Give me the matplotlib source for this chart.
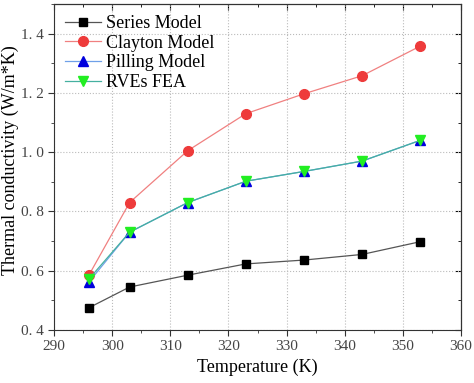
import matplotlib.pyplot as plt
from matplotlib.ticker import MultipleLocator, FuncFormatter

temp = [296, 303, 313, 323, 333, 343, 353]
series_model = [0.475, 0.545, 0.585, 0.623, 0.636, 0.655, 0.698]
clayton_model = [0.585, 0.830, 1.005, 1.130, 1.197, 1.258, 1.358]
pilling_model = [0.562, 0.730, 0.830, 0.902, 0.935, 0.970, 1.040]
rves_fea = [0.572, 0.730, 0.830, 0.902, 0.935, 0.970, 1.040]

plt.rcParams['font.family'] = 'Liberation Serif'

fig = plt.figure(figsize=(4.74, 3.83), dpi=100)
ax = fig.add_axes([54 / 474, 53 / 383, 407 / 474, 326 / 383])

ax.plot(temp, series_model, color='#555555', lw=0.9, marker='s', ms=6,
        mfc='black', mec='black', label='Series Model')
ax.plot(temp, clayton_model, color='#f08080', lw=0.9, marker='o', ms=7,
        mfc='#ee3b3b', mec='#ee3b3b', label='Clayton Model')
ax.plot(temp, pilling_model, color='#6fa0e8', lw=0.9, marker='^', ms=7,
        mfc='#0000dd', mec='#0000dd', label='Pilling Model')
ax.plot(temp, rves_fea, color='#45b0a0', lw=0.9, marker='v', ms=7,
        mfc='#22ee22', mec='#22ee22', label='RVEs FEA')

ax.set_xlim(290, 360)
ax.set_ylim(0.4, 1.5)
ax.xaxis.set_major_locator(MultipleLocator(10))
ax.xaxis.set_minor_locator(MultipleLocator(5))
ax.yaxis.set_major_locator(MultipleLocator(0.2))
ax.yaxis.set_minor_locator(MultipleLocator(0.1))
ax.yaxis.set_major_formatter(FuncFormatter(lambda v, p: ('%.1f' % v).replace('.', '. ')))

ax.grid(True, which='major', ls=':', color='#bbbbbb', lw=0.8)
ax.tick_params(which='both', direction='out', top=False, right=False,
               labelsize=11, colors='#333333', labelcolor='#444444')
ax.tick_params(which='major', length=4)
ax.tick_params(which='minor', length=2.5)
ax2 = ax.secondary_xaxis('top')
ax2.set_xticks(ax.get_xticks())
ax2.xaxis.set_minor_locator(MultipleLocator(5))
ax2.tick_params(which='both', direction='in', labeltop=False)
ax2.tick_params(which='major', length=4)
ax2.tick_params(which='minor', length=2.5)
ax3 = ax.secondary_yaxis('right')
ax3.yaxis.set_major_locator(MultipleLocator(0.2))
ax3.yaxis.set_minor_locator(MultipleLocator(0.1))
ax3.tick_params(which='both', direction='in', labelright=False)
ax3.tick_params(which='major', length=4)
ax3.tick_params(which='minor', length=2.5)
for s in ax.spines.values():
    s.set_color('#333333')

ax.set_xlabel('Temperature (K)', fontsize=13)
ax.set_ylabel('Thermal conductivity (W/m*K)', fontsize=13)
ax.yaxis.set_label_coords(-35 / 407, 0.52)

ax.legend(loc='upper left', frameon=False, fontsize=13, handlelength=2.0,
          handletextpad=0.3, labelspacing=0.15, borderaxespad=0.2,
          bbox_to_anchor=(0.0, 1.0))

fig.savefig('out.png', dpi=100)
